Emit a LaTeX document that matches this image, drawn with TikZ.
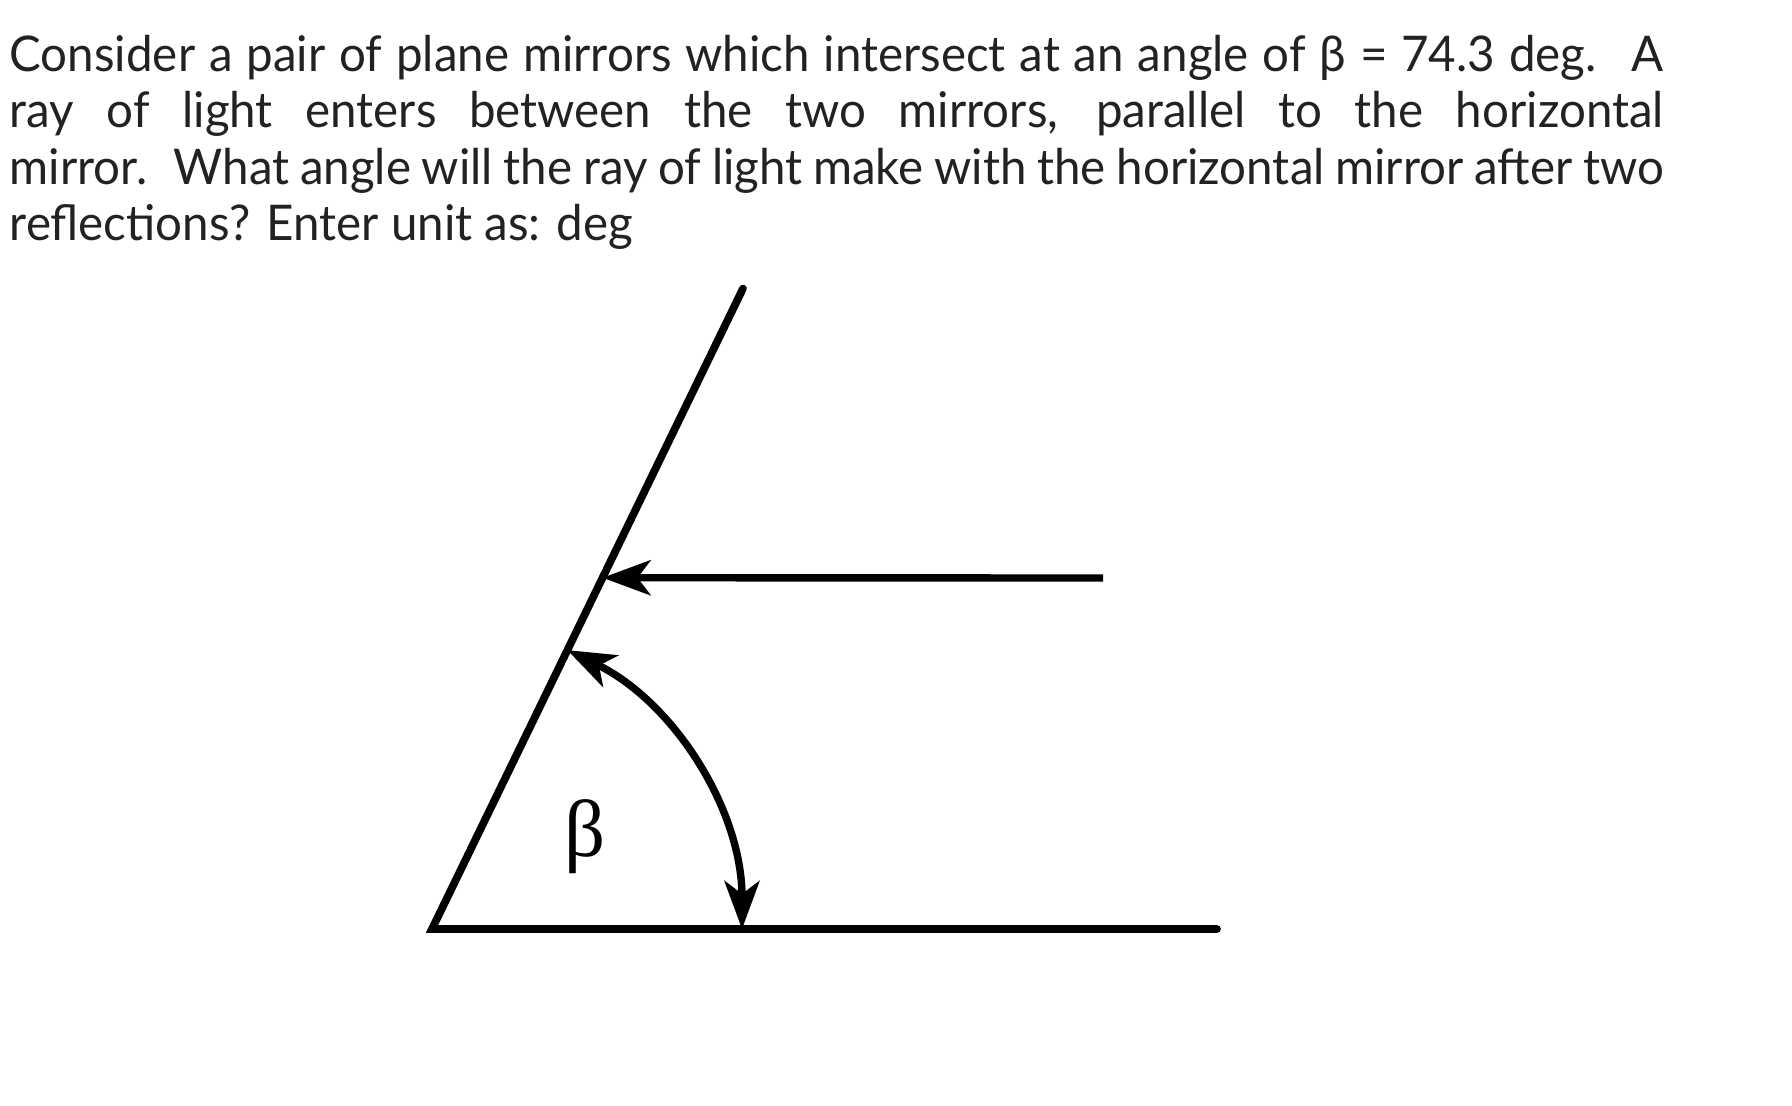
\documentclass[tikz,border=0pt]{standalone}
\usepackage{fontspec}
\setmainfont{Lato}[FakeStretch=0.965]
\newfontfamily\greekserif{Liberation Serif}
\usetikzlibrary{arrows.meta,calc}
\definecolor{qtext}{HTML}{222222}

\begin{document}
\begin{tikzpicture}[
    >={Stealth[length=4.8mm,width=3.5mm,inset=1.3mm]},
    mirror/.style={line width=2.2pt, line cap=round},
    ray/.style={line width=2.1pt},
    qline/.style={anchor=base west, inner sep=0pt, text=qtext,
        font=\fontsize{14}{16}\selectfont}
]
    \useasboundingbox (0,0) rectangle (17.92,-11.06);

    % The question, one node for each printed line
    \node[qline] (line1) at (0.09,-0.72)
        {\makebox[16.54cm][s]{Consider a pair of plane mirrors which intersect at an angle of β = 74.3 deg. \ A}};
    \node[qline] (line2) at (0.09,-1.28)
        {\makebox[16.54cm][s]{ray of light enters between the two mirrors, parallel to the horizontal}};
    \node[qline] (line3) at (0.09,-1.85)
        {\makebox[16.54cm][s]{mirror. \ What angle will the ray of light make with the horizontal mirror after two}};
    \node[qline] (line4) at (0.09,-2.41)
        {reflections? Enter unit as: deg};

    % Mirror angle as drawn
    \def\mang{64.1}

    % Corner of the two mirrors and their free ends
    \coordinate (O) at (4.32,-9.29);
    \coordinate (R) at (12.17,-9.29);
    \coordinate (T) at ($(O)+(\mang:7.12)$);

    % Ray start and the point where it meets the slanted mirror
    \coordinate (S) at (11.03,-5.78);
    \coordinate (H) at ($(O)!{3.51/6.40}!(T)$);

    % Draw the two mirrors
    \draw[mirror] (R) -- (O) -- (T);

    % Draw the incoming ray
    \draw[ray,->] (S) -- (H);

    % Draw the angle arc between the mirrors
    \draw[ray,<->] ($(O)+(\mang:3.1)$) arc[start angle=\mang, end angle=0, radius=3.1];

    % Angle label
    \node[font=\greekserif\fontsize{23}{23}\selectfont] (beta) at (5.85,-8.37) {β};

\end{tikzpicture}
\end{document}
